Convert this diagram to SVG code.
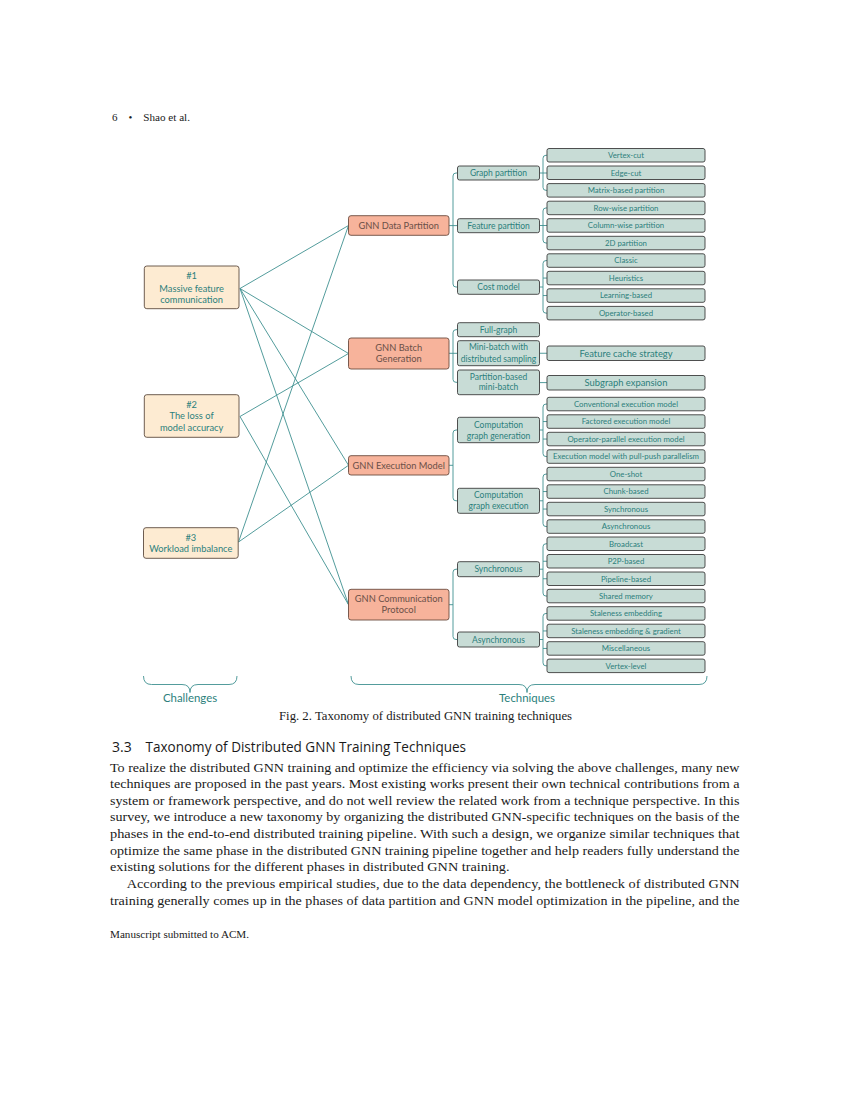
<svg xmlns="http://www.w3.org/2000/svg" width="850" height="1100" viewBox="0 0 850 1100">
<style>
.bg{fill:#ffffff}
.leaf rect,.mid rect{fill:#c8dcd6;stroke:#3d3d3d;stroke-width:0.9}
.top rect{fill:#f7b39b;stroke:#6b4c40;stroke-width:0.9}
.chal rect{fill:#fdebd2;stroke:#5d4c3f;stroke-width:0.9}
.leaf text{font-family:Lato,"Noto Sans",sans-serif;font-size:7.8px;fill:#2c7f7c;text-anchor:middle}
.leaf text.big{font-size:9.4px}
.mid text{font-family:Lato,"Noto Sans",sans-serif;font-size:8.5px;fill:#2c7f7c;text-anchor:middle}
.top text{font-family:Lato,"Noto Sans",sans-serif;font-size:9.3px;fill:#6b5048;text-anchor:middle}
.chal text{font-family:Lato,"Noto Sans",sans-serif;font-size:9.3px;fill:#2c7f7c;text-anchor:middle}
.lbl{font-family:Lato,"Noto Sans",sans-serif;font-size:11.4px;fill:#2c7f7c;text-anchor:middle}
.conn path,.conn line{fill:none;stroke:#3f9191;stroke-width:0.9}
.serif{font-family:"Liberation Serif",serif;fill:#1a1a1a}
.body{font-family:"Liberation Serif",serif;font-size:13.4px;fill:#1a1a1a}
.head{font-family:"Open Sans","Liberation Sans",sans-serif;font-size:14px;fill:#1a1a1a}
</style>
<rect class="bg" x="0" y="0" width="850" height="1100"/>

<g id="page-header">
<text class="serif" x="112" y="121" font-size="11">6</text>
<text class="serif" x="128.5" y="121" font-size="11">•</text>
<text class="serif" x="143.3" y="121" font-size="11" textLength="46.7" lengthAdjust="spacingAndGlyphs">Shao et al.</text>
</g>

<g class="conn" id="connectors">
<line x1="240" y1="288.5" x2="348.5" y2="225.5"/>
<line x1="240" y1="288.5" x2="348.5" y2="353.5"/>
<line x1="240" y1="288.5" x2="348.5" y2="465.3"/>
<line x1="240" y1="288.5" x2="348.5" y2="604.7"/>
<line x1="240" y1="416.5" x2="348.5" y2="353.5"/>
<line x1="240" y1="416.5" x2="348.5" y2="604.7"/>
<line x1="238.5" y1="542" x2="348.5" y2="225.5"/>
<line x1="238.5" y1="542" x2="348.5" y2="465.3"/>
<path d="M457.5 173 H456 Q453 173 453 176 V284 Q453 287 456 287 H457.5 M449 225.6 H457.5"/>
<path d="M457.5 329.7 H456 Q453 329.7 453 332.7 V379.3 Q453 382.3 456 382.3 H457.5 M449 353.3 H457.5"/>
<path d="M457.5 430 H456 Q453 430 453 433 V497.8 Q453 500.8 456 500.8 H457.5 M449 465.3 H453"/>
<path d="M457.5 569.2 H456 Q453 569.2 453 572.2 V636.5 Q453 639.5 456 639.5 H457.5 M449 604.7 H453"/>
<path d="M547 155.25 H546 Q543 155.25 543 158.25 V187.35 Q543 190.35 546 190.35 H547 M539.5 173 H547"/>
<path d="M547 207.95 H546 Q543 207.95 543 210.95 V240.05 Q543 243.05 546 243.05 H547 M539.5 225.5 H547"/>
<path d="M547 260.55 H546 Q543 260.55 543 263.55 V310.15 Q543 313.15 546 313.15 H547 M543 278.05 H547 M543 295.55 H547 M539.5 287 H543"/>
<path d="M539.5 353.25 H547 M539.5 382.6 H547"/>
<path d="M547 404.05 H546 Q543 404.05 543 407.05 V453.55 Q543 456.55 546 456.55 H547 M543 421.55 H547 M543 439.05 H547 M539.5 430 H543"/>
<path d="M547 474.05 H546 Q543 474.05 543 477.05 V523.55 Q543 526.55 546 526.55 H547 M543 491.55 H547 M543 509.05 H547 M539.5 500.8 H543"/>
<path d="M547 543.75 H546 Q543 543.75 543 546.75 V593.05 Q543 596.05 546 596.05 H547 M543 561.25 H547 M543 578.75 H547 M539.5 569.2 H543"/>
<path d="M547 613.45 H546 Q543 613.45 543 616.45 V662.85 Q543 665.85 546 665.85 H547 M543 630.95 H547 M543 648.45 H547 M539.5 639.5 H543"/>
</g>

<g id="c1" class="chal"><rect x="144.3" y="266" width="94.7" height="42.7" rx="2.5"/><text x="191.6" y="279.25">#1</text><text x="191.6" y="291.55">Massive feature</text><text x="191.6" y="303.25">communication</text></g>
<g id="c2" class="chal"><rect x="144.3" y="394.7" width="94.7" height="42.6" rx="2.5"/><text x="191.6" y="407.55">#2</text><text x="191.6" y="418.95">The loss of</text><text x="191.6" y="430.55">model accuracy</text></g>
<g id="c3" class="chal"><rect x="143.5" y="527.7" width="94.7" height="30.6" rx="2.5"/><text x="190.8" y="540.55">#3</text><text x="190.8" y="552.25">Workload imbalance</text></g>

<g id="t1" class="top"><rect x="348.5" y="215.7" width="100.5" height="19.6" rx="2.5"/><text x="398.7" y="228.75">GNN Data Partition</text></g>
<g id="t2" class="top"><rect x="348.5" y="338" width="100.5" height="31" rx="2.5"/><text x="398.7" y="350.55">GNN Batch</text><text x="398.7" y="362.25">Generation</text></g>
<g id="t3" class="top"><rect x="348.5" y="455.7" width="100.5" height="19.3" rx="2.5"/><text x="398.7" y="468.55">GNN Execution Model</text></g>
<g id="t4" class="top"><rect x="348.5" y="589.3" width="100.5" height="30.7" rx="2.5"/><text x="398.7" y="601.55">GNN Communication</text><text x="398.7" y="613.25">Protocol</text></g>

<g id="m1" class="mid"><rect x="457.5" y="166" width="82" height="14" rx="2"/><text x="498.5" y="176">Graph partition</text></g>
<g id="m2" class="mid"><rect x="457.5" y="218.7" width="82" height="14" rx="2"/><text x="498.5" y="228.7">Feature partition</text></g>
<g id="m3" class="mid"><rect x="457.5" y="280" width="82" height="14.3" rx="2"/><text x="498.5" y="290">Cost model</text></g>
<g id="m4" class="mid"><rect x="457.5" y="322.7" width="82" height="14" rx="2"/><text x="498.5" y="332.7">Full-graph</text></g>
<g id="m5" class="mid"><rect x="457.5" y="340.7" width="82" height="25" rx="2"/><text x="498.5" y="350.3">Mini-batch with</text><text x="498.5" y="361.7">distributed sampling</text></g>
<g id="m6" class="mid"><rect x="457.5" y="370" width="82" height="24.7" rx="2"/><text x="498.5" y="379.7">Partition-based</text><text x="498.5" y="390.3">mini-batch</text></g>
<g id="m7" class="mid"><rect x="457.5" y="417.3" width="82" height="25.4" rx="2"/><text x="498.5" y="428.3">Computation</text><text x="498.5" y="438.7">graph generation</text></g>
<g id="m8" class="mid"><rect x="457.5" y="488.3" width="82" height="25" rx="2"/><text x="498.5" y="498.3">Computation</text><text x="498.5" y="508.7">graph execution</text></g>
<g id="m9" class="mid"><rect x="457.5" y="561.7" width="82" height="15" rx="2"/><text x="498.5" y="572.2">Synchronous</text></g>
<g id="m10" class="mid"><rect x="457.5" y="632" width="82" height="15" rx="2"/><text x="498.5" y="642.5">Asynchronous</text></g>

<g id="l1" class="leaf"><rect x="547" y="148.5" width="158" height="13.5" rx="2"/><text x="626" y="158">Vertex-cut</text></g>
<g id="l2" class="leaf"><rect x="547" y="166" width="158" height="13.5" rx="2"/><text x="626" y="175.5">Edge-cut</text></g>
<g id="l3" class="leaf"><rect x="547" y="183.6" width="158" height="13.5" rx="2"/><text x="626" y="193.1">Matrix-based partition</text></g>
<g id="l4" class="leaf"><rect x="547" y="201.2" width="158" height="13.5" rx="2"/><text x="626" y="210.7">Row-wise partition</text></g>
<g id="l5" class="leaf"><rect x="547" y="218.7" width="158" height="13.5" rx="2"/><text x="626" y="228.2">Column-wise partition</text></g>
<g id="l6" class="leaf"><rect x="547" y="236.3" width="158" height="13.5" rx="2"/><text x="626" y="245.8">2D partition</text></g>
<g id="l7" class="leaf"><rect x="547" y="253.8" width="158" height="13.5" rx="2"/><text x="626" y="263.3">Classic</text></g>
<g id="l8" class="leaf"><rect x="547" y="271.3" width="158" height="13.5" rx="2"/><text x="626" y="280.8">Heuristics</text></g>
<g id="l9" class="leaf"><rect x="547" y="288.8" width="158" height="13.5" rx="2"/><text x="626" y="298.3">Learning-based</text></g>
<g id="l10" class="leaf"><rect x="547" y="306.4" width="158" height="13.5" rx="2"/><text x="626" y="315.9">Operator-based</text></g>
<g id="l11" class="leaf"><rect x="547" y="346" width="158" height="14.5" rx="2"/><text class="big" x="626" y="356.6">Feature cache strategy</text></g>
<g id="l12" class="leaf"><rect x="547" y="375.5" width="158" height="14.5" rx="2"/><text class="big" x="626" y="386.1">Subgraph expansion</text></g>
<g id="l13" class="leaf"><rect x="547" y="397.3" width="158" height="13.5" rx="2"/><text x="626" y="406.8">Conventional execution model</text></g>
<g id="l14" class="leaf"><rect x="547" y="414.8" width="158" height="13.5" rx="2"/><text x="626" y="424.3">Factored execution model</text></g>
<g id="l15" class="leaf"><rect x="547" y="432.3" width="158" height="13.5" rx="2"/><text x="626" y="441.8">Operator-parallel execution model</text></g>
<g id="l16" class="leaf"><rect x="547" y="449.8" width="158" height="13.5" rx="2"/><text x="626" y="459.3">Execution model with pull-push parallelism</text></g>
<g id="l17" class="leaf"><rect x="547" y="467.3" width="158" height="13.5" rx="2"/><text x="626" y="476.8">One-shot</text></g>
<g id="l18" class="leaf"><rect x="547" y="484.8" width="158" height="13.5" rx="2"/><text x="626" y="494.3">Chunk-based</text></g>
<g id="l19" class="leaf"><rect x="547" y="502.3" width="158" height="13.5" rx="2"/><text x="626" y="511.8">Synchronous</text></g>
<g id="l20" class="leaf"><rect x="547" y="519.8" width="158" height="13.5" rx="2"/><text x="626" y="529.3">Asynchronous</text></g>
<g id="l21" class="leaf"><rect x="547" y="537" width="158" height="13.5" rx="2"/><text x="626" y="546.5">Broadcast</text></g>
<g id="l22" class="leaf"><rect x="547" y="554.5" width="158" height="13.5" rx="2"/><text x="626" y="564">P2P-based</text></g>
<g id="l23" class="leaf"><rect x="547" y="572" width="158" height="13.5" rx="2"/><text x="626" y="581.5">Pipeline-based</text></g>
<g id="l24" class="leaf"><rect x="547" y="589.3" width="158" height="13.5" rx="2"/><text x="626" y="598.8">Shared memory</text></g>
<g id="l25" class="leaf"><rect x="547" y="606.7" width="158" height="13.5" rx="2"/><text x="626" y="616.2">Staleness embedding</text></g>
<g id="l26" class="leaf"><rect x="547" y="624.2" width="158" height="13.5" rx="2"/><text x="626" y="633.7">Staleness embedding &amp; gradient</text></g>
<g id="l27" class="leaf"><rect x="547" y="641.7" width="158" height="13.5" rx="2"/><text x="626" y="651.2">Miscellaneous</text></g>
<g id="l28" class="leaf"><rect x="547" y="659.1" width="158" height="13.5" rx="2"/><text x="626" y="668.6">Vertex-level</text></g>

<g id="braces" class="conn">
<path d="M143.5 676 Q143.5 684.5 151.5 684.5 H182 Q190 684.5 190 692.5 Q190 684.5 198 684.5 H229 Q237 684.5 237 676"/>
<path d="M351 676 Q351 684.5 359 684.5 H519 Q527 684.5 527 692.5 Q527 684.5 535 684.5 H699 Q707 684.5 707 676"/>
</g>
<text class="lbl" x="190" y="702">Challenges</text>
<text class="lbl" x="527" y="702">Techniques</text>

<text class="serif" x="279" y="719.5" font-size="12" textLength="293" lengthAdjust="spacingAndGlyphs">Fig. 2.  Taxonomy of distributed GNN training techniques</text>

<text class="head" x="112" y="752">3.3</text>
<text class="head" x="145.5" y="752" textLength="320.5" lengthAdjust="spacingAndGlyphs">Taxonomy of Distributed GNN Training Techniques</text>

<g id="body-text">
<text class="body" x="110" y="771.5" textLength="629.5" lengthAdjust="spacingAndGlyphs">To realize the distributed GNN training and optimize the efficiency via solving the above challenges, many new</text>
<text class="body" x="110" y="788.1" textLength="629.5" lengthAdjust="spacingAndGlyphs">techniques are proposed in the past years. Most existing works present their own technical contributions from a</text>
<text class="body" x="110" y="804.8" textLength="629.5" lengthAdjust="spacingAndGlyphs">system or framework perspective, and do not well review the related work from a technique perspective. In this</text>
<text class="body" x="110" y="821.4" textLength="629.5" lengthAdjust="spacingAndGlyphs">survey, we introduce a new taxonomy by organizing the distributed GNN-specific techniques on the basis of the</text>
<text class="body" x="110" y="838.1" textLength="629.5" lengthAdjust="spacingAndGlyphs">phases in the end-to-end distributed training pipeline. With such a design, we organize similar techniques that</text>
<text class="body" x="110" y="854.7" textLength="629.5" lengthAdjust="spacingAndGlyphs">optimize the same phase in the distributed GNN training pipeline together and help readers fully understand the</text>
<text class="body" x="110" y="871.4" textLength="399.5" lengthAdjust="spacingAndGlyphs">existing solutions for the different phases in distributed GNN training.</text>
<text class="body" x="126.7" y="888" textLength="612.8" lengthAdjust="spacingAndGlyphs">According to the previous empirical studies, due to the data dependency, the bottleneck of distributed GNN</text>
<text class="body" x="110" y="904.7" textLength="629.5" lengthAdjust="spacingAndGlyphs">training generally comes up in the phases of data partition and GNN model optimization in the pipeline, and the</text>
</g>

<text class="serif" x="110" y="937.5" font-size="11" textLength="139" lengthAdjust="spacingAndGlyphs">Manuscript submitted to ACM.</text>
</svg>
